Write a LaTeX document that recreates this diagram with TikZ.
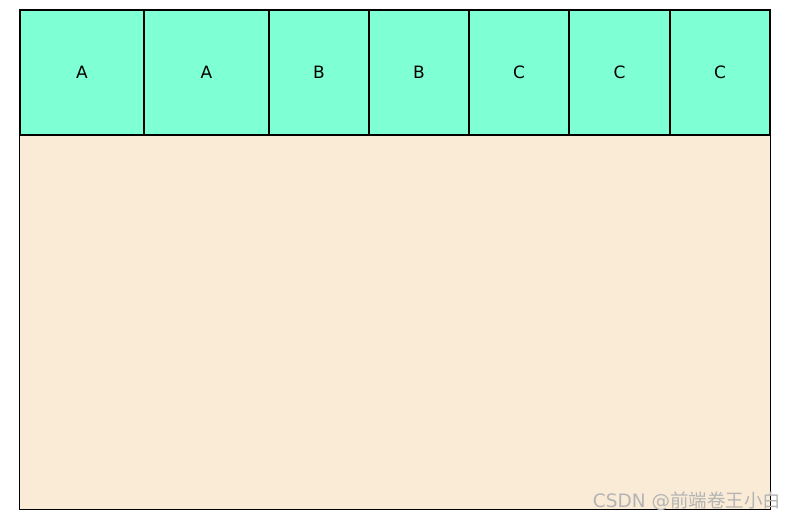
\documentclass[tikz,border=0pt]{standalone}
\usepackage{fontspec}
\setmainfont{DejaVu Sans}
\newfontfamily\cjk{Noto Sans CJK SC}
\definecolor{aqua}{HTML}{7FFFD4}
\definecolor{antique}{HTML}{FAEBD7}
\definecolor{wmark}{HTML}{B4B4B4}
\begin{document}
\begin{tikzpicture}[x=1pt,y=-1pt,
  itembox/.style={draw=black,line width=2pt,fill=aqua,inner sep=0pt,minimum height=125pt,
    font=\fontsize{17}{20}\selectfont},
  contbox/.style={draw=black,line width=1pt,fill=antique}]
\useasboundingbox (0,0) rectangle (795,521);
\fill[white] (0,0) rectangle (795,521);
\node[contbox,inner sep=0pt,minimum width=751pt,minimum height=500pt] (cont) at (395,259.5) {};
\node[itembox,minimum width=124pt] (i1) at (82,72.5) {A};
\node[itembox,minimum width=125pt] (i2) at (206.5,72.5) {A};
\node[itembox,minimum width=100pt] (i3) at (319,72.5) {B};
\node[itembox,minimum width=100pt] (i4) at (419,72.5) {B};
\node[itembox,minimum width=100pt] (i5) at (519,72.5) {C};
\node[itembox,minimum width=101pt] (i6) at (619.5,72.5) {C};
\node[itembox,minimum width=100pt] (i7) at (720,72.5) {C};
\node[text=wmark,font=\fontsize{18.5}{22}\selectfont,inner sep=0pt] (wm) at (687,501) {CSDN @{\cjk 前端卷王小白}};
\end{tikzpicture}
\end{document}
